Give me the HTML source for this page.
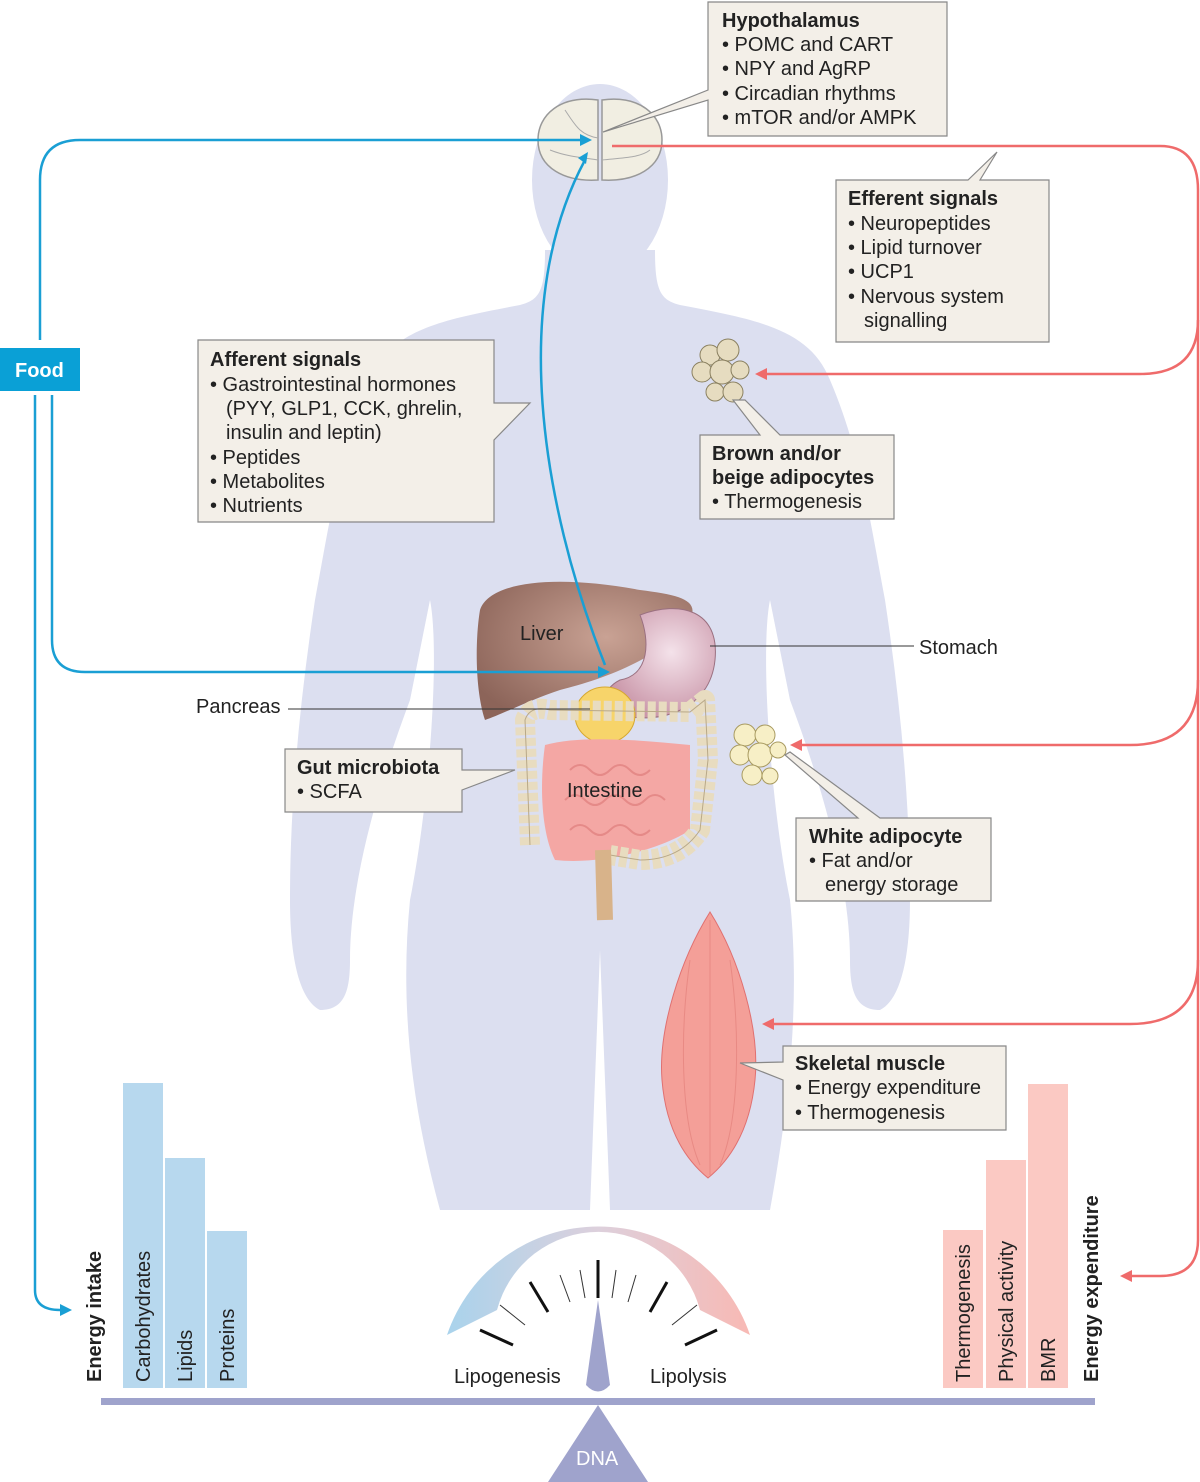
<!DOCTYPE html>
<html><head><meta charset="utf-8"><style>
body{margin:0;background:#fff}
svg{display:block}
text{font-family:"Liberation Sans",sans-serif;font-size:20px;fill:#222}
.b{font-weight:bold}
</style></head><body>
<svg width="1200" height="1482" viewBox="0 0 1200 1482" xmlns="http://www.w3.org/2000/svg">
<defs>
<linearGradient id="g" x1="0" x2="1"><stop offset="0" stop-color="#a9d3ec"/><stop offset="0.5" stop-color="#ddd0dc"/><stop offset="1" stop-color="#f8b9b4"/></linearGradient>
<radialGradient id="lv" cx="0.6" cy="0.4" r="0.7"><stop offset="0" stop-color="#c9a294"/><stop offset="1" stop-color="#8c6459"/></radialGradient>
<radialGradient id="st" cx="0.6" cy="0.4" r="0.7"><stop offset="0" stop-color="#f4e2ea"/><stop offset="1" stop-color="#c48ca0"/></radialGradient>
</defs>
<g fill="#dcdff0">
<ellipse cx="600" cy="180" rx="68" ry="96"/>
<path d="M545,250 C545,290 540,300 520,305 C440,320 390,330 370,380 C340,450 330,520 315,600 C300,700 290,800 290,900 C290,960 300,1000 320,1010 C345,1010 350,990 350,960 C350,880 380,780 410,700 L430,600 C440,650 430,800 410,900 C400,1000 410,1100 440,1210 L590,1210 L600,950 L610,1210 L770,1210 C790,1100 800,1000 790,900 C770,800 760,650 770,600 L790,700 C820,780 850,880 850,960 C850,990 855,1010 880,1010 C900,1000 910,960 910,900 C910,800 900,700 885,600 C870,520 860,450 830,380 C810,330 760,320 680,305 C660,300 655,290 655,250 Z"/>
</g>
<!-- brain -->
<path d="M598,100 C560,95 538,115 538,140 C538,168 565,182 598,180 Z" fill="#f1eee2" stroke="#999" stroke-width="1.5"/>
<path d="M602,100 C640,95 662,115 662,140 C662,168 635,182 602,180 Z" fill="#f1eee2" stroke="#999" stroke-width="1.5"/>
<path d="M550,150 C570,158 590,158 598,160 M602,160 C620,158 640,158 650,150 M565,110 C575,125 580,135 598,138" fill="none" stroke="#aaa"/>
<!-- liver -->
<path d="M480,610 C490,580 560,575 640,590 C680,595 700,600 690,620 C660,660 600,680 560,690 C530,700 500,715 485,720 C475,690 475,640 480,610 Z" fill="url(#lv)"/>
<!-- stomach -->
<path d="M640,615 C680,600 720,610 715,660 C710,710 660,725 620,715 C600,710 600,690 620,680 C650,675 650,640 640,615 Z" fill="url(#st)" stroke="#9a7080"/>
<ellipse cx="605" cy="715" rx="30" ry="28" fill="#f7d46a" stroke="#d6a830"/>
<!-- intestines -->
<path d="M545,745 C580,735 640,740 690,745 L690,830 C660,850 600,865 555,860 C540,830 540,780 545,745 Z" fill="#f4a7a4"/>
<path d="M570,770 q10,-10 20,0 t20,0 t20,0 t20,0 M565,800 q10,-10 20,0 t20,0 t20,0 t20,0 t20,0 M570,830 q10,-10 20,0 t20,0 t20,0 t20,0" fill="none" stroke="#e58a88" stroke-width="2"/>
<path d="M530,845 L525,720 Q530,705 550,710 L690,712 L705,700 L708,760 L700,830 Q680,860 640,860 L610,855" fill="none" stroke="#e8dcc0" stroke-width="20" stroke-linejoin="round" stroke-dasharray="8 3"/>
<path d="M530,845 L525,720 Q530,705 550,710 L690,712 L705,700 L708,760 L700,830 Q680,860 640,860 L610,855" fill="none" stroke="#b8a888" stroke-width="1"/>
<path d="M603,850 L605,920" stroke="#d8b38a" stroke-width="16"/>
<!-- adipocytes -->
<g fill="#e6dcc0" stroke="#8a8060">
<circle cx="710" cy="355" r="10"/><circle cx="728" cy="350" r="11"/><circle cx="702" cy="372" r="10"/><circle cx="722" cy="372" r="12"/><circle cx="740" cy="370" r="9"/><circle cx="715" cy="392" r="9"/><circle cx="733" cy="392" r="10"/>
</g>
<g fill="#f7efc6" stroke="#a89a60">
<circle cx="745" cy="735" r="11"/><circle cx="765" cy="735" r="10"/><circle cx="740" cy="755" r="10"/><circle cx="760" cy="755" r="12"/><circle cx="778" cy="750" r="8"/><circle cx="752" cy="775" r="10"/><circle cx="770" cy="776" r="8"/>
</g>
<!-- muscle -->
<path d="M710,912 C740,960 760,1030 755,1080 C750,1130 730,1160 708,1178 C686,1160 666,1130 662,1080 C658,1030 680,960 710,912 Z" fill="#f49f98" stroke="#e07070"/>
<path d="M690,960 C680,1030 680,1120 700,1165 M710,920 L710,1175 M730,960 C740,1030 740,1120 720,1165" fill="none" stroke="#e88a84"/>
<g fill="none" stroke="#1a9fd4" stroke-width="2.5">
<path d="M40,340 L40,180 Q40,140 80,140 L585,140"/>
<path d="M35,395 L35,1290 Q35,1310 60,1310"/>
<path d="M52,395 L52,640 Q52,672 85,672 L600,672"/>
<path d="M605,665 C540,500 510,300 585,160"/>
</g>
<g fill="#1a9fd4"><path d="M592,140 l-12,-6 v12z"/><path d="M72,1310 l-12,-6 v12z"/><path d="M610,672 l-12,-6 v12z"/><path d="M588,152 l-10,6 l8,6z"/></g>
<g fill="none" stroke="#ef6b6b" stroke-width="2.5">
<path d="M612,146 L1160,146 Q1198,146 1198,190 L1198,1240 Q1198,1276 1160,1276 L1130,1276"/>
<path d="M1198,320 Q1198,374 1140,374 L765,374"/>
<path d="M1198,680 Q1198,745 1130,745 L800,745"/>
<path d="M1198,960 Q1198,1024 1130,1024 L772,1024"/>
</g>
<g fill="#ef6b6b"><path d="M755,374 l12,-6 v12z"/><path d="M790,745 l12,-6 v12z"/><path d="M762,1024 l12,-6 v12z"/><path d="M1120,1276 l12,-6 v12z"/></g>
<g fill="#f3efe8" stroke="#888" stroke-width="1.2">
<path d="M708,2 H947 V136 H708 V100 L603,132 L708,90 Z"/>
<path d="M836,180 H968 L997,152 L980,180 H1049 V342 H836 Z"/>
<path d="M198,340 H494 V403 L530,403 L494,440 V522 H198 Z"/>
<path d="M700,435 H760 L733,400 L745,400 L780,435 H894 V519 H700 Z"/>
<path d="M285,749 H462 V770 L515,770 L462,790 V812 H285 Z"/>
<path d="M796,818 H858 L785,755 L790,752 L880,818 H991 V901 H796 Z"/>
<path d="M783,1046 H1006 V1130 H783 V1080 L740,1063 L783,1062 Z"/>
</g>
<rect x="0" y="348" width="80" height="43" fill="#0aa0d6"/>
<text x="15" y="377" class="b" style="fill:#fff">Food</text>
<text x="722" y="27" class="b">Hypothalamus</text>
<text x="722" y="51">• POMC and CART</text>
<text x="722" y="75">• NPY and AgRP</text>
<text x="722" y="100">• Circadian rhythms</text>
<text x="722" y="124">• mTOR and/or AMPK</text>
<text x="848" y="205" class="b">Efferent signals</text>
<text x="848" y="230">• Neuropeptides</text>
<text x="848" y="254">• Lipid turnover</text>
<text x="848" y="278">• UCP1</text>
<text x="848" y="303">• Nervous system</text>
<text x="864" y="327">signalling</text>
<text x="210" y="366" class="b">Afferent signals</text>
<text x="210" y="391">• Gastrointestinal hormones</text>
<text x="226" y="415">(PYY, GLP1, CCK, ghrelin,</text>
<text x="226" y="439">insulin and leptin)</text>
<text x="210" y="464">• Peptides</text>
<text x="210" y="488">• Metabolites</text>
<text x="210" y="512">• Nutrients</text>
<text x="712" y="460" class="b">Brown and/or</text>
<text x="712" y="484" class="b">beige adipocytes</text>
<text x="712" y="508">• Thermogenesis</text>
<text x="520" y="640">Liver</text>
<text x="919" y="654">Stomach</text>
<line x1="710" y1="646" x2="914" y2="646" stroke="#333"/>
<text x="196" y="713">Pancreas</text>
<line x1="288" y1="709" x2="590" y2="709" stroke="#333"/>
<text x="297" y="774" class="b">Gut microbiota</text>
<text x="297" y="798">• SCFA</text>
<text x="567" y="797">Intestine</text>
<text x="809" y="843" class="b">White adipocyte</text>
<text x="809" y="867">• Fat and/or</text>
<text x="825" y="891">energy storage</text>
<text x="795" y="1070" class="b">Skeletal muscle</text>
<text x="795" y="1094">• Energy expenditure</text>
<text x="795" y="1119">• Thermogenesis</text>
<rect x="123" y="1083" width="40" height="305" fill="#b7d8ee"/>
<rect x="165" y="1158" width="40" height="230" fill="#b7d8ee"/>
<rect x="207" y="1231" width="40" height="157" fill="#b7d8ee"/>
<rect x="943" y="1230" width="40" height="158" fill="#fbc9c3"/>
<rect x="986" y="1160" width="40" height="228" fill="#fbc9c3"/>
<rect x="1028" y="1084" width="40" height="304" fill="#fbc9c3"/>
<g font-size="20">
<text transform="translate(101,1382) rotate(-90)" class="b">Energy intake</text>
<text transform="translate(150,1382) rotate(-90)">Carbohydrates</text>
<text transform="translate(192,1382) rotate(-90)">Lipids</text>
<text transform="translate(234,1382) rotate(-90)">Proteins</text>
<text transform="translate(970,1382) rotate(-90)">Thermogenesis</text>
<text transform="translate(1013,1382) rotate(-90)">Physical activity</text>
<text transform="translate(1055,1382) rotate(-90)">BMR</text>
<text transform="translate(1098,1382) rotate(-90)" class="b">Energy expenditure</text>
</g>
<path d="M447,1335 A160,160 0 0 1 750,1335 L700,1310 A105,105 0 0 0 497,1310 Z" fill="url(#g)"/>
<g stroke="#111" stroke-width="3">
<line x1="480" y1="1330" x2="513" y2="1345"/><line x1="530" y1="1282" x2="548" y2="1312"/><line x1="598" y1="1260" x2="598" y2="1298"/><line x1="667" y1="1282" x2="650" y2="1312"/><line x1="717" y1="1330" x2="685" y2="1345"/>
</g>
<g stroke="#333" stroke-width="1"><line x1="500" y1="1305" x2="525" y2="1325"/><line x1="560" y1="1275" x2="570" y2="1302"/><line x1="580" y1="1270" x2="585" y2="1298"/><line x1="616" y1="1270" x2="612" y2="1298"/><line x1="636" y1="1275" x2="628" y2="1302"/><line x1="697" y1="1305" x2="672" y2="1325"/></g>
<path d="M598,1300 L610,1385 Q598,1398 586,1385 Z" fill="#9fa3cc"/>
<text x="454" y="1383">Lipogenesis</text>
<text x="650" y="1383">Lipolysis</text>
<rect x="101" y="1398" width="994" height="7" fill="#9fa3cc"/>
<path d="M598,1405 L648,1482 L548,1482 Z" fill="#9fa3cc"/>
<text x="576" y="1465" style="fill:#fff">DNA</text>
</svg>
</body></html>
